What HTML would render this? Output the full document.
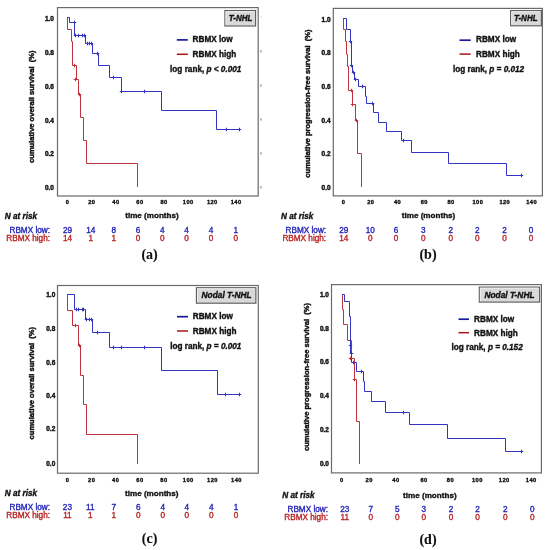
<!DOCTYPE html>
<html><head><meta charset="utf-8"><title>Kaplan-Meier survival curves by RBMX expression</title>
<style>
html,body{margin:0;padding:0;background:#fff;}
body{width:548px;height:550px;overflow:hidden;font-family:"Liberation Sans",sans-serif;}
svg{display:block;filter:blur(0.3px);}
</style></head>
<body>
<svg width="548" height="550" viewBox="0 0 548 550">
<rect x="0" y="0" width="548" height="550" fill="#fff"/>
<rect x="57.5" y="7.6" width="200.70" height="188.40" fill="none" stroke="#6a6a6a" stroke-width="1.2"/>
<text x="54.0" y="21.25" font-family="Liberation Sans" font-size="6.5" font-weight="bold" font-style="normal" text-anchor="end" fill="#111" stroke="#111" stroke-width="0.4" letter-spacing="0.0">1.0</text>
<text x="54.0" y="55.05" font-family="Liberation Sans" font-size="6.5" font-weight="bold" font-style="normal" text-anchor="end" fill="#111" stroke="#111" stroke-width="0.4" letter-spacing="0.0">0.8</text>
<text x="54.0" y="88.85" font-family="Liberation Sans" font-size="6.5" font-weight="bold" font-style="normal" text-anchor="end" fill="#111" stroke="#111" stroke-width="0.4" letter-spacing="0.0">0.6</text>
<text x="54.0" y="122.65" font-family="Liberation Sans" font-size="6.5" font-weight="bold" font-style="normal" text-anchor="end" fill="#111" stroke="#111" stroke-width="0.4" letter-spacing="0.0">0.4</text>
<text x="54.0" y="156.45" font-family="Liberation Sans" font-size="6.5" font-weight="bold" font-style="normal" text-anchor="end" fill="#111" stroke="#111" stroke-width="0.4" letter-spacing="0.0">0.2</text>
<text x="54.0" y="190.45" font-family="Liberation Sans" font-size="6.5" font-weight="bold" font-style="normal" text-anchor="end" fill="#111" stroke="#111" stroke-width="0.4" letter-spacing="0.0">0.0</text>
<text x="67.62" y="204.3" font-family="Liberation Sans" font-size="5.7" font-weight="bold" font-style="normal" text-anchor="middle" fill="#111" stroke="#111" stroke-width="0.35" letter-spacing="0.45">0</text>
<text x="91.82" y="204.3" font-family="Liberation Sans" font-size="5.7" font-weight="bold" font-style="normal" text-anchor="middle" fill="#111" stroke="#111" stroke-width="0.35" letter-spacing="0.45">20</text>
<text x="115.92" y="204.3" font-family="Liberation Sans" font-size="5.7" font-weight="bold" font-style="normal" text-anchor="middle" fill="#111" stroke="#111" stroke-width="0.35" letter-spacing="0.45">40</text>
<text x="139.92" y="204.3" font-family="Liberation Sans" font-size="5.7" font-weight="bold" font-style="normal" text-anchor="middle" fill="#111" stroke="#111" stroke-width="0.35" letter-spacing="0.45">60</text>
<text x="164.12" y="204.3" font-family="Liberation Sans" font-size="5.7" font-weight="bold" font-style="normal" text-anchor="middle" fill="#111" stroke="#111" stroke-width="0.35" letter-spacing="0.45">80</text>
<text x="188.22" y="204.3" font-family="Liberation Sans" font-size="5.7" font-weight="bold" font-style="normal" text-anchor="middle" fill="#111" stroke="#111" stroke-width="0.35" letter-spacing="0.45">100</text>
<text x="212.32" y="204.3" font-family="Liberation Sans" font-size="5.7" font-weight="bold" font-style="normal" text-anchor="middle" fill="#111" stroke="#111" stroke-width="0.35" letter-spacing="0.45">120</text>
<text x="236.12" y="204.3" font-family="Liberation Sans" font-size="5.7" font-weight="bold" font-style="normal" text-anchor="middle" fill="#111" stroke="#111" stroke-width="0.35" letter-spacing="0.45">140</text>
<text transform="translate(34.1,106.7) rotate(-90)" x="0" y="0" font-family="Liberation Sans" font-size="7.55" font-weight="bold" text-anchor="middle" fill="#111" stroke="#111" stroke-width="0.42" xml:space="preserve">cumulative overall survival  (%)</text>
<line x1="176.8" y1="39.9" x2="187.8" y2="39.9" stroke="#1a1aa0" stroke-width="1.7"/>
<line x1="176.8" y1="54.3" x2="187.8" y2="54.3" stroke="#a81414" stroke-width="1.5"/>
<text x="192.6" y="42.4" font-family="Liberation Sans" font-size="8.2" font-weight="bold" font-style="normal" text-anchor="start" fill="#111" stroke="#111" stroke-width="0.35" >RBMX low</text>
<text x="192.6" y="56.9" font-family="Liberation Sans" font-size="8.2" font-weight="bold" font-style="normal" text-anchor="start" fill="#111" stroke="#111" stroke-width="0.35" >RBMX high</text>
<text x="170.1" y="71.7" font-family="Liberation Sans" font-size="8.2" font-weight="bold" font-style="normal" text-anchor="start" fill="#111" stroke="#111" stroke-width="0.35" >log rank, <tspan font-style="italic">p &lt; 0.001</tspan></text>
<rect x="224.9" y="10.5" width="30.70" height="15.50" fill="#d9d9d9" stroke="#5a5a5a" stroke-width="1.1"/>
<path d="M226.0,24.9 V11.6 H254.50000000000003" fill="none" stroke="#f0f0f0" stroke-width="0.9"/>
<text x="228.8" y="20.9" font-family="Liberation Sans" font-size="8.8" font-weight="bold" font-style="italic" text-anchor="start" fill="#111" stroke="#111" stroke-width="0.35" textLength="23.6" lengthAdjust="spacingAndGlyphs">T-NHL</text>
<path d="M67.5,17.5 V29.5 H71.5 V41.5 H72.5 V65.5 H76.5 V79.5 H78.5 V94.5 H80.5 V117.5 H83.5 V140.5 H86.5 V163.5 H137.5 V186.5" fill="none" stroke="#c0323c" stroke-width="1.0" stroke-linejoin="miter" stroke-linecap="square"/>
<path d="M67.5,17.5 H69.5 V22.5 H74.5 V35.5 H85.5 V43.5 H92.5 V53.5 H98.5 V65.5 H109.5 V77.5 H121.5 V91.5 H161.5 V110.5 H216.5 V129.5 H239.5" fill="none" stroke="#3333c2" stroke-width="1.0" stroke-linejoin="miter" stroke-linecap="square"/>
<path d="M72.8,22.5 H76.2 M74.5,20.8 V24.2" stroke="#3333c2" stroke-width="1.1" fill="none"/>
<path d="M73.8,35.5 H77.2 M75.5,33.8 V37.2" stroke="#3333c2" stroke-width="1.1" fill="none"/>
<path d="M76.8,35.5 H80.2 M78.5,33.8 V37.2" stroke="#3333c2" stroke-width="1.1" fill="none"/>
<path d="M80.8,35.5 H84.2 M82.5,33.8 V37.2" stroke="#3333c2" stroke-width="1.1" fill="none"/>
<path d="M82.8,35.5 H86.2 M84.5,33.8 V37.2" stroke="#3333c2" stroke-width="1.1" fill="none"/>
<path d="M85.8,43.5 H89.2 M87.5,41.8 V45.2" stroke="#3333c2" stroke-width="1.1" fill="none"/>
<path d="M87.8,43.5 H91.2 M89.5,41.8 V45.2" stroke="#3333c2" stroke-width="1.1" fill="none"/>
<path d="M89.8,43.5 H93.2 M91.5,41.8 V45.2" stroke="#3333c2" stroke-width="1.1" fill="none"/>
<path d="M95.8,53.5 H99.2 M97.5,51.8 V55.2" stroke="#3333c2" stroke-width="1.1" fill="none"/>
<path d="M111.8,77.5 H115.2 M113.5,75.8 V79.2" stroke="#3333c2" stroke-width="1.1" fill="none"/>
<path d="M119.8,91.5 H123.2 M121.5,89.8 V93.2" stroke="#3333c2" stroke-width="1.1" fill="none"/>
<path d="M142.8,91.5 H146.2 M144.5,89.8 V93.2" stroke="#3333c2" stroke-width="1.1" fill="none"/>
<path d="M224.8,129.5 H228.2 M226.5,127.8 V131.2" stroke="#3333c2" stroke-width="1.1" fill="none"/>
<path d="M237.8,129.5 H241.2 M239.5,127.8 V131.2" stroke="#3333c2" stroke-width="1.1" fill="none"/>
<path d="M72.8,65.5 H76.2 M74.5,63.8 V67.2" stroke="#c0323c" stroke-width="1.1" fill="none"/>
<path d="M73.8,79.5 H77.2 M75.5,77.8 V81.2" stroke="#c0323c" stroke-width="1.1" fill="none"/>
<path d="M77.8,94.5 H81.2 M79.5,92.8 V96.2" stroke="#c0323c" stroke-width="1.1" fill="none"/>
<text x="4.8" y="218.9" font-family="Liberation Sans" font-size="8.2" font-weight="bold" font-style="italic" text-anchor="start" fill="#111" stroke="#111" stroke-width="0.35" >N at risk</text>
<text x="50.0" y="232.9" font-family="Liberation Sans" font-size="8.2" font-weight="normal" font-style="normal" text-anchor="end" fill="#2424b8" stroke="#2424b8" stroke-width="0.35" >RBMX low:</text>
<text x="50.0" y="240.6" font-family="Liberation Sans" font-size="8.2" font-weight="normal" font-style="normal" text-anchor="end" fill="#b82424" stroke="#b82424" stroke-width="0.35" >RBMX high:</text>
<text x="125.2" y="218.2" font-family="Liberation Sans" font-size="8.1" font-weight="bold" font-style="normal" text-anchor="start" fill="#111" stroke="#111" stroke-width="0.35" >time (months)</text>
<text x="67.5" y="233.0" font-family="Liberation Sans" font-size="8.2" font-weight="normal" font-style="normal" text-anchor="middle" fill="#2424b8" stroke="#2424b8" stroke-width="0.35" >29</text>
<text x="90.8" y="233.0" font-family="Liberation Sans" font-size="8.2" font-weight="normal" font-style="normal" text-anchor="middle" fill="#2424b8" stroke="#2424b8" stroke-width="0.35" >14</text>
<text x="113.9" y="233.0" font-family="Liberation Sans" font-size="8.2" font-weight="normal" font-style="normal" text-anchor="middle" fill="#2424b8" stroke="#2424b8" stroke-width="0.35" >8</text>
<text x="138.1" y="233.0" font-family="Liberation Sans" font-size="8.2" font-weight="normal" font-style="normal" text-anchor="middle" fill="#2424b8" stroke="#2424b8" stroke-width="0.35" >6</text>
<text x="162.4" y="233.0" font-family="Liberation Sans" font-size="8.2" font-weight="normal" font-style="normal" text-anchor="middle" fill="#2424b8" stroke="#2424b8" stroke-width="0.35" >4</text>
<text x="186.5" y="233.0" font-family="Liberation Sans" font-size="8.2" font-weight="normal" font-style="normal" text-anchor="middle" fill="#2424b8" stroke="#2424b8" stroke-width="0.35" >4</text>
<text x="211.0" y="233.0" font-family="Liberation Sans" font-size="8.2" font-weight="normal" font-style="normal" text-anchor="middle" fill="#2424b8" stroke="#2424b8" stroke-width="0.35" >4</text>
<text x="235.8" y="233.0" font-family="Liberation Sans" font-size="8.2" font-weight="normal" font-style="normal" text-anchor="middle" fill="#2424b8" stroke="#2424b8" stroke-width="0.35" >1</text>
<text x="67.5" y="240.8" font-family="Liberation Sans" font-size="8.2" font-weight="normal" font-style="normal" text-anchor="middle" fill="#b82424" stroke="#b82424" stroke-width="0.35" >14</text>
<text x="90.8" y="240.8" font-family="Liberation Sans" font-size="8.2" font-weight="normal" font-style="normal" text-anchor="middle" fill="#b82424" stroke="#b82424" stroke-width="0.35" >1</text>
<text x="113.9" y="240.8" font-family="Liberation Sans" font-size="8.2" font-weight="normal" font-style="normal" text-anchor="middle" fill="#b82424" stroke="#b82424" stroke-width="0.35" >1</text>
<text x="138.1" y="240.8" font-family="Liberation Sans" font-size="8.2" font-weight="normal" font-style="normal" text-anchor="middle" fill="#b82424" stroke="#b82424" stroke-width="0.35" >0</text>
<text x="162.4" y="240.8" font-family="Liberation Sans" font-size="8.2" font-weight="normal" font-style="normal" text-anchor="middle" fill="#b82424" stroke="#b82424" stroke-width="0.35" >0</text>
<text x="186.5" y="240.8" font-family="Liberation Sans" font-size="8.2" font-weight="normal" font-style="normal" text-anchor="middle" fill="#b82424" stroke="#b82424" stroke-width="0.35" >0</text>
<text x="211.0" y="240.8" font-family="Liberation Sans" font-size="8.2" font-weight="normal" font-style="normal" text-anchor="middle" fill="#b82424" stroke="#b82424" stroke-width="0.35" >0</text>
<text x="235.8" y="240.8" font-family="Liberation Sans" font-size="8.2" font-weight="normal" font-style="normal" text-anchor="middle" fill="#b82424" stroke="#b82424" stroke-width="0.35" >0</text>
<text x="149.6" y="258.8" font-family="Liberation Serif" font-size="14" font-weight="bold" font-style="normal" text-anchor="middle" fill="#111" stroke="#111" stroke-width="0.1" >(a)</text>
<rect x="333.3" y="8.4" width="209.10" height="187.50" fill="none" stroke="#6a6a6a" stroke-width="1.2"/>
<text x="330.6" y="21.55" font-family="Liberation Sans" font-size="6.5" font-weight="bold" font-style="normal" text-anchor="end" fill="#111" stroke="#111" stroke-width="0.4" letter-spacing="0.0">1.0</text>
<text x="330.6" y="55.35" font-family="Liberation Sans" font-size="6.5" font-weight="bold" font-style="normal" text-anchor="end" fill="#111" stroke="#111" stroke-width="0.4" letter-spacing="0.0">0.8</text>
<text x="330.6" y="88.85" font-family="Liberation Sans" font-size="6.5" font-weight="bold" font-style="normal" text-anchor="end" fill="#111" stroke="#111" stroke-width="0.4" letter-spacing="0.0">0.6</text>
<text x="330.6" y="122.55" font-family="Liberation Sans" font-size="6.5" font-weight="bold" font-style="normal" text-anchor="end" fill="#111" stroke="#111" stroke-width="0.4" letter-spacing="0.0">0.4</text>
<text x="330.6" y="156.35" font-family="Liberation Sans" font-size="6.5" font-weight="bold" font-style="normal" text-anchor="end" fill="#111" stroke="#111" stroke-width="0.4" letter-spacing="0.0">0.2</text>
<text x="330.6" y="190.15" font-family="Liberation Sans" font-size="6.5" font-weight="bold" font-style="normal" text-anchor="end" fill="#111" stroke="#111" stroke-width="0.4" letter-spacing="0.0">0.0</text>
<text x="343.52000000000004" y="204.3" font-family="Liberation Sans" font-size="5.7" font-weight="bold" font-style="normal" text-anchor="middle" fill="#111" stroke="#111" stroke-width="0.35" letter-spacing="0.45">0</text>
<text x="370.82000000000005" y="204.3" font-family="Liberation Sans" font-size="5.7" font-weight="bold" font-style="normal" text-anchor="middle" fill="#111" stroke="#111" stroke-width="0.35" letter-spacing="0.45">20</text>
<text x="397.62" y="204.3" font-family="Liberation Sans" font-size="5.7" font-weight="bold" font-style="normal" text-anchor="middle" fill="#111" stroke="#111" stroke-width="0.35" letter-spacing="0.45">40</text>
<text x="424.32000000000005" y="204.3" font-family="Liberation Sans" font-size="5.7" font-weight="bold" font-style="normal" text-anchor="middle" fill="#111" stroke="#111" stroke-width="0.35" letter-spacing="0.45">60</text>
<text x="451.12" y="204.3" font-family="Liberation Sans" font-size="5.7" font-weight="bold" font-style="normal" text-anchor="middle" fill="#111" stroke="#111" stroke-width="0.35" letter-spacing="0.45">80</text>
<text x="477.92" y="204.3" font-family="Liberation Sans" font-size="5.7" font-weight="bold" font-style="normal" text-anchor="middle" fill="#111" stroke="#111" stroke-width="0.35" letter-spacing="0.45">100</text>
<text x="504.82000000000005" y="204.3" font-family="Liberation Sans" font-size="5.7" font-weight="bold" font-style="normal" text-anchor="middle" fill="#111" stroke="#111" stroke-width="0.35" letter-spacing="0.45">120</text>
<text x="531.62" y="204.3" font-family="Liberation Sans" font-size="5.7" font-weight="bold" font-style="normal" text-anchor="middle" fill="#111" stroke="#111" stroke-width="0.35" letter-spacing="0.45">140</text>
<text transform="translate(309.7,103.6) rotate(-90)" x="0" y="0" font-family="Liberation Sans" font-size="7.55" font-weight="bold" text-anchor="middle" fill="#111" stroke="#111" stroke-width="0.42" xml:space="preserve">cumulative progression-free survival  (%)</text>
<line x1="459.5" y1="40.2" x2="470.7" y2="40.2" stroke="#1a1aa0" stroke-width="1.7"/>
<line x1="459.5" y1="54.1" x2="470.7" y2="54.1" stroke="#a81414" stroke-width="1.5"/>
<text x="476.0" y="42.4" font-family="Liberation Sans" font-size="8.2" font-weight="bold" font-style="normal" text-anchor="start" fill="#111" stroke="#111" stroke-width="0.35" >RBMX low</text>
<text x="476.0" y="57.2" font-family="Liberation Sans" font-size="8.2" font-weight="bold" font-style="normal" text-anchor="start" fill="#111" stroke="#111" stroke-width="0.35" >RBMX high</text>
<text x="452.9" y="72.3" font-family="Liberation Sans" font-size="8.2" font-weight="bold" font-style="normal" text-anchor="start" fill="#111" stroke="#111" stroke-width="0.35" >log rank, <tspan font-style="italic">p = 0.012</tspan></text>
<rect x="510.6" y="10.6" width="30.80" height="15.20" fill="#d9d9d9" stroke="#5a5a5a" stroke-width="1.1"/>
<path d="M511.70000000000005,24.7 V11.7 H540.3" fill="none" stroke="#f0f0f0" stroke-width="0.9"/>
<text x="514.0" y="21.0" font-family="Liberation Sans" font-size="8.8" font-weight="bold" font-style="italic" text-anchor="start" fill="#111" stroke="#111" stroke-width="0.35" textLength="23.6" lengthAdjust="spacingAndGlyphs">T-NHL</text>
<path d="M343.5,18.5 V29.5 H345.5 V41.5 H346.5 V54.5 H347.5 V66.5 H348.5 V90.5 H352.5 V104.5 H355.5 V120.5 H357.5 V153.5 H361.5 V186.5" fill="none" stroke="#c0323c" stroke-width="1.0" stroke-linejoin="miter" stroke-linecap="square"/>
<path d="M343.5,18.5 H346.5 V29.5 H350.5 V41.5 H351.5 V65.5 H352.5 V72.5 H354.5 V79.5 H358.5 V86.5 H365.5 V96.5 H366.5 V103.5 H373.5 V112.5 H378.5 V122.5 H386.5 V131.5 H401.5 V140.5 H411.5 V152.5 H448.5 V163.5 H506.5 V175.5 H521.5" fill="none" stroke="#3333c2" stroke-width="1.0" stroke-linejoin="miter" stroke-linecap="square"/>
<path d="M348.8,41.5 H352.2 M350.5,39.8 V43.2" stroke="#3333c2" stroke-width="1.1" fill="none"/>
<path d="M349.8,65.5 H353.2 M351.5,63.8 V67.2" stroke="#3333c2" stroke-width="1.1" fill="none"/>
<path d="M351.8,72.5 H355.2 M353.5,70.8 V74.2" stroke="#3333c2" stroke-width="1.1" fill="none"/>
<path d="M353.8,79.5 H357.2 M355.5,77.8 V81.2" stroke="#3333c2" stroke-width="1.1" fill="none"/>
<path d="M360.8,86.5 H364.2 M362.5,84.8 V88.2" stroke="#3333c2" stroke-width="1.1" fill="none"/>
<path d="M370.8,103.5 H374.2 M372.5,101.8 V105.2" stroke="#3333c2" stroke-width="1.1" fill="none"/>
<path d="M401.8,140.5 H405.2 M403.5,138.8 V142.2" stroke="#3333c2" stroke-width="1.1" fill="none"/>
<path d="M519.8,175.5 H523.2 M521.5,173.8 V177.2" stroke="#3333c2" stroke-width="1.1" fill="none"/>
<path d="M349.8,90.5 H353.2 M351.5,88.8 V92.2" stroke="#c0323c" stroke-width="1.1" fill="none"/>
<path d="M350.8,104.5 H354.2 M352.5,102.8 V106.2" stroke="#c0323c" stroke-width="1.1" fill="none"/>
<path d="M354.8,120.5 H358.2 M356.5,118.8 V122.2" stroke="#c0323c" stroke-width="1.1" fill="none"/>
<text x="281.0" y="218.8" font-family="Liberation Sans" font-size="8.2" font-weight="bold" font-style="italic" text-anchor="start" fill="#111" stroke="#111" stroke-width="0.35" >N at risk</text>
<text x="326.1" y="232.8" font-family="Liberation Sans" font-size="8.2" font-weight="normal" font-style="normal" text-anchor="end" fill="#2424b8" stroke="#2424b8" stroke-width="0.35" >RBMX low:</text>
<text x="326.1" y="240.6" font-family="Liberation Sans" font-size="8.2" font-weight="normal" font-style="normal" text-anchor="end" fill="#b82424" stroke="#b82424" stroke-width="0.35" >RBMX high:</text>
<text x="455.3" y="218.2" font-family="Liberation Sans" font-size="8.1" font-weight="bold" font-style="normal" text-anchor="end" fill="#111" stroke="#111" stroke-width="0.35" >time (months)</text>
<text x="343.8" y="233.0" font-family="Liberation Sans" font-size="8.2" font-weight="normal" font-style="normal" text-anchor="middle" fill="#2424b8" stroke="#2424b8" stroke-width="0.35" >29</text>
<text x="370.3" y="233.0" font-family="Liberation Sans" font-size="8.2" font-weight="normal" font-style="normal" text-anchor="middle" fill="#2424b8" stroke="#2424b8" stroke-width="0.35" >10</text>
<text x="396.1" y="233.0" font-family="Liberation Sans" font-size="8.2" font-weight="normal" font-style="normal" text-anchor="middle" fill="#2424b8" stroke="#2424b8" stroke-width="0.35" >6</text>
<text x="423.3" y="233.0" font-family="Liberation Sans" font-size="8.2" font-weight="normal" font-style="normal" text-anchor="middle" fill="#2424b8" stroke="#2424b8" stroke-width="0.35" >3</text>
<text x="450.8" y="233.0" font-family="Liberation Sans" font-size="8.2" font-weight="normal" font-style="normal" text-anchor="middle" fill="#2424b8" stroke="#2424b8" stroke-width="0.35" >2</text>
<text x="477.2" y="233.0" font-family="Liberation Sans" font-size="8.2" font-weight="normal" font-style="normal" text-anchor="middle" fill="#2424b8" stroke="#2424b8" stroke-width="0.35" >2</text>
<text x="504.6" y="233.0" font-family="Liberation Sans" font-size="8.2" font-weight="normal" font-style="normal" text-anchor="middle" fill="#2424b8" stroke="#2424b8" stroke-width="0.35" >2</text>
<text x="531.0" y="233.0" font-family="Liberation Sans" font-size="8.2" font-weight="normal" font-style="normal" text-anchor="middle" fill="#2424b8" stroke="#2424b8" stroke-width="0.35" >0</text>
<text x="343.8" y="240.8" font-family="Liberation Sans" font-size="8.2" font-weight="normal" font-style="normal" text-anchor="middle" fill="#b82424" stroke="#b82424" stroke-width="0.35" >14</text>
<text x="370.3" y="240.8" font-family="Liberation Sans" font-size="8.2" font-weight="normal" font-style="normal" text-anchor="middle" fill="#b82424" stroke="#b82424" stroke-width="0.35" >0</text>
<text x="396.1" y="240.8" font-family="Liberation Sans" font-size="8.2" font-weight="normal" font-style="normal" text-anchor="middle" fill="#b82424" stroke="#b82424" stroke-width="0.35" >0</text>
<text x="423.3" y="240.8" font-family="Liberation Sans" font-size="8.2" font-weight="normal" font-style="normal" text-anchor="middle" fill="#b82424" stroke="#b82424" stroke-width="0.35" >0</text>
<text x="450.8" y="240.8" font-family="Liberation Sans" font-size="8.2" font-weight="normal" font-style="normal" text-anchor="middle" fill="#b82424" stroke="#b82424" stroke-width="0.35" >0</text>
<text x="477.2" y="240.8" font-family="Liberation Sans" font-size="8.2" font-weight="normal" font-style="normal" text-anchor="middle" fill="#b82424" stroke="#b82424" stroke-width="0.35" >0</text>
<text x="504.6" y="240.8" font-family="Liberation Sans" font-size="8.2" font-weight="normal" font-style="normal" text-anchor="middle" fill="#b82424" stroke="#b82424" stroke-width="0.35" >0</text>
<text x="531.0" y="240.8" font-family="Liberation Sans" font-size="8.2" font-weight="normal" font-style="normal" text-anchor="middle" fill="#b82424" stroke="#b82424" stroke-width="0.35" >0</text>
<text x="428.0" y="259.2" font-family="Liberation Serif" font-size="14" font-weight="bold" font-style="normal" text-anchor="middle" fill="#111" stroke="#111" stroke-width="0.1" >(b)</text>
<rect x="57.5" y="285.5" width="200.80" height="187.70" fill="none" stroke="#6a6a6a" stroke-width="1.2"/>
<text x="55.3" y="297.25" font-family="Liberation Sans" font-size="6.5" font-weight="bold" font-style="normal" text-anchor="end" fill="#111" stroke="#111" stroke-width="0.4" letter-spacing="0.0">1.0</text>
<text x="55.3" y="331.3" font-family="Liberation Sans" font-size="6.5" font-weight="bold" font-style="normal" text-anchor="end" fill="#111" stroke="#111" stroke-width="0.4" letter-spacing="0.0">0.8</text>
<text x="55.3" y="364.55" font-family="Liberation Sans" font-size="6.5" font-weight="bold" font-style="normal" text-anchor="end" fill="#111" stroke="#111" stroke-width="0.4" letter-spacing="0.0">0.6</text>
<text x="55.3" y="398.05" font-family="Liberation Sans" font-size="6.5" font-weight="bold" font-style="normal" text-anchor="end" fill="#111" stroke="#111" stroke-width="0.4" letter-spacing="0.0">0.4</text>
<text x="55.3" y="431.3" font-family="Liberation Sans" font-size="6.5" font-weight="bold" font-style="normal" text-anchor="end" fill="#111" stroke="#111" stroke-width="0.4" letter-spacing="0.0">0.2</text>
<text x="55.3" y="465.95" font-family="Liberation Sans" font-size="6.5" font-weight="bold" font-style="normal" text-anchor="end" fill="#111" stroke="#111" stroke-width="0.4" letter-spacing="0.0">0.0</text>
<text x="67.62" y="481.8" font-family="Liberation Sans" font-size="5.7" font-weight="bold" font-style="normal" text-anchor="middle" fill="#111" stroke="#111" stroke-width="0.35" letter-spacing="0.45">0</text>
<text x="91.72" y="481.8" font-family="Liberation Sans" font-size="5.7" font-weight="bold" font-style="normal" text-anchor="middle" fill="#111" stroke="#111" stroke-width="0.35" letter-spacing="0.45">20</text>
<text x="115.72" y="481.8" font-family="Liberation Sans" font-size="5.7" font-weight="bold" font-style="normal" text-anchor="middle" fill="#111" stroke="#111" stroke-width="0.35" letter-spacing="0.45">40</text>
<text x="139.92" y="481.8" font-family="Liberation Sans" font-size="5.7" font-weight="bold" font-style="normal" text-anchor="middle" fill="#111" stroke="#111" stroke-width="0.35" letter-spacing="0.45">60</text>
<text x="163.92" y="481.8" font-family="Liberation Sans" font-size="5.7" font-weight="bold" font-style="normal" text-anchor="middle" fill="#111" stroke="#111" stroke-width="0.35" letter-spacing="0.45">80</text>
<text x="188.22" y="481.8" font-family="Liberation Sans" font-size="5.7" font-weight="bold" font-style="normal" text-anchor="middle" fill="#111" stroke="#111" stroke-width="0.35" letter-spacing="0.45">100</text>
<text x="212.52" y="481.8" font-family="Liberation Sans" font-size="5.7" font-weight="bold" font-style="normal" text-anchor="middle" fill="#111" stroke="#111" stroke-width="0.35" letter-spacing="0.45">120</text>
<text x="236.52" y="481.8" font-family="Liberation Sans" font-size="5.7" font-weight="bold" font-style="normal" text-anchor="middle" fill="#111" stroke="#111" stroke-width="0.35" letter-spacing="0.45">140</text>
<text transform="translate(34.2,383.2) rotate(-90)" x="0" y="0" font-family="Liberation Sans" font-size="7.55" font-weight="bold" text-anchor="middle" fill="#111" stroke="#111" stroke-width="0.42" xml:space="preserve">cumulative overall survival  (%)</text>
<line x1="177.0" y1="316.7" x2="188.0" y2="316.7" stroke="#1a1aa0" stroke-width="1.7"/>
<line x1="177.0" y1="331.0" x2="188.0" y2="331.0" stroke="#a81414" stroke-width="1.5"/>
<text x="192.8" y="318.9" font-family="Liberation Sans" font-size="8.2" font-weight="bold" font-style="normal" text-anchor="start" fill="#111" stroke="#111" stroke-width="0.35" >RBMX low</text>
<text x="192.8" y="333.5" font-family="Liberation Sans" font-size="8.2" font-weight="bold" font-style="normal" text-anchor="start" fill="#111" stroke="#111" stroke-width="0.35" >RBMX high</text>
<text x="170.2" y="348.8" font-family="Liberation Sans" font-size="8.2" font-weight="bold" font-style="normal" text-anchor="start" fill="#111" stroke="#111" stroke-width="0.35" >log rank, <tspan font-style="italic">p = 0.001</tspan></text>
<rect x="196.4" y="287.7" width="59.50" height="15.50" fill="#d9d9d9" stroke="#5a5a5a" stroke-width="1.1"/>
<path d="M197.5,302.09999999999997 V288.8 H254.79999999999998" fill="none" stroke="#f0f0f0" stroke-width="0.9"/>
<text x="201.6" y="298.4" font-family="Liberation Sans" font-size="8.8" font-weight="bold" font-style="italic" text-anchor="start" fill="#111" stroke="#111" stroke-width="0.35" textLength="50.0" lengthAdjust="spacingAndGlyphs">Nodal T-NHL</text>
<path d="M67.5,294.5 V310.5 H72.5 V325.5 H78.5 V345.5 H80.5 V375.5 H83.5 V404.5 H86.5 V434.5 H137.5 V463.5" fill="none" stroke="#c0323c" stroke-width="1.0" stroke-linejoin="miter" stroke-linecap="square"/>
<path d="M67.5,294.5 H74.5 V309.5 H85.5 V319.5 H92.5 V332.5 H109.5 V347.5 H161.5 V370.5 H217.5 V394.5 H239.5" fill="none" stroke="#3333c2" stroke-width="1.0" stroke-linejoin="miter" stroke-linecap="square"/>
<path d="M74.8,309.5 H78.2 M76.5,307.8 V311.2" stroke="#3333c2" stroke-width="1.1" fill="none"/>
<path d="M76.8,309.5 H80.2 M78.5,307.8 V311.2" stroke="#3333c2" stroke-width="1.1" fill="none"/>
<path d="M80.8,309.5 H84.2 M82.5,307.8 V311.2" stroke="#3333c2" stroke-width="1.1" fill="none"/>
<path d="M81.8,309.5 H85.2 M83.5,307.8 V311.2" stroke="#3333c2" stroke-width="1.1" fill="none"/>
<path d="M84.8,319.5 H88.2 M86.5,317.8 V321.2" stroke="#3333c2" stroke-width="1.1" fill="none"/>
<path d="M87.8,319.5 H91.2 M89.5,317.8 V321.2" stroke="#3333c2" stroke-width="1.1" fill="none"/>
<path d="M89.8,319.5 H93.2 M91.5,317.8 V321.2" stroke="#3333c2" stroke-width="1.1" fill="none"/>
<path d="M95.8,332.5 H99.2 M97.5,330.8 V334.2" stroke="#3333c2" stroke-width="1.1" fill="none"/>
<path d="M111.8,347.5 H115.2 M113.5,345.8 V349.2" stroke="#3333c2" stroke-width="1.1" fill="none"/>
<path d="M119.8,347.5 H123.2 M121.5,345.8 V349.2" stroke="#3333c2" stroke-width="1.1" fill="none"/>
<path d="M142.8,347.5 H146.2 M144.5,345.8 V349.2" stroke="#3333c2" stroke-width="1.1" fill="none"/>
<path d="M223.8,394.5 H227.2 M225.5,392.8 V396.2" stroke="#3333c2" stroke-width="1.1" fill="none"/>
<path d="M237.8,394.5 H241.2 M239.5,392.8 V396.2" stroke="#3333c2" stroke-width="1.1" fill="none"/>
<path d="M73.8,325.5 H77.2 M75.5,323.8 V327.2" stroke="#c0323c" stroke-width="1.1" fill="none"/>
<path d="M77.8,345.5 H81.2 M79.5,343.8 V347.2" stroke="#c0323c" stroke-width="1.1" fill="none"/>
<text x="4.8" y="496.1" font-family="Liberation Sans" font-size="8.2" font-weight="bold" font-style="italic" text-anchor="start" fill="#111" stroke="#111" stroke-width="0.35" >N at risk</text>
<text x="50.0" y="509.9" font-family="Liberation Sans" font-size="8.2" font-weight="normal" font-style="normal" text-anchor="end" fill="#2424b8" stroke="#2424b8" stroke-width="0.35" >RBMX low:</text>
<text x="50.0" y="517.7" font-family="Liberation Sans" font-size="8.2" font-weight="normal" font-style="normal" text-anchor="end" fill="#b82424" stroke="#b82424" stroke-width="0.35" >RBMX high:</text>
<text x="178.5" y="495.6" font-family="Liberation Sans" font-size="8.1" font-weight="bold" font-style="normal" text-anchor="end" fill="#111" stroke="#111" stroke-width="0.35" >time (months)</text>
<text x="67.4" y="510.1" font-family="Liberation Sans" font-size="8.2" font-weight="normal" font-style="normal" text-anchor="middle" fill="#2424b8" stroke="#2424b8" stroke-width="0.35" >23</text>
<text x="90.25" y="510.1" font-family="Liberation Sans" font-size="8.2" font-weight="normal" font-style="normal" text-anchor="middle" fill="#2424b8" stroke="#2424b8" stroke-width="0.35" >11</text>
<text x="113.75" y="510.1" font-family="Liberation Sans" font-size="8.2" font-weight="normal" font-style="normal" text-anchor="middle" fill="#2424b8" stroke="#2424b8" stroke-width="0.35" >7</text>
<text x="138.2" y="510.1" font-family="Liberation Sans" font-size="8.2" font-weight="normal" font-style="normal" text-anchor="middle" fill="#2424b8" stroke="#2424b8" stroke-width="0.35" >6</text>
<text x="162.7" y="510.1" font-family="Liberation Sans" font-size="8.2" font-weight="normal" font-style="normal" text-anchor="middle" fill="#2424b8" stroke="#2424b8" stroke-width="0.35" >4</text>
<text x="186.7" y="510.1" font-family="Liberation Sans" font-size="8.2" font-weight="normal" font-style="normal" text-anchor="middle" fill="#2424b8" stroke="#2424b8" stroke-width="0.35" >4</text>
<text x="211.2" y="510.1" font-family="Liberation Sans" font-size="8.2" font-weight="normal" font-style="normal" text-anchor="middle" fill="#2424b8" stroke="#2424b8" stroke-width="0.35" >4</text>
<text x="236.0" y="510.1" font-family="Liberation Sans" font-size="8.2" font-weight="normal" font-style="normal" text-anchor="middle" fill="#2424b8" stroke="#2424b8" stroke-width="0.35" >1</text>
<text x="67.4" y="518.0" font-family="Liberation Sans" font-size="8.2" font-weight="normal" font-style="normal" text-anchor="middle" fill="#b82424" stroke="#b82424" stroke-width="0.35" >11</text>
<text x="90.25" y="518.0" font-family="Liberation Sans" font-size="8.2" font-weight="normal" font-style="normal" text-anchor="middle" fill="#b82424" stroke="#b82424" stroke-width="0.35" >1</text>
<text x="113.75" y="518.0" font-family="Liberation Sans" font-size="8.2" font-weight="normal" font-style="normal" text-anchor="middle" fill="#b82424" stroke="#b82424" stroke-width="0.35" >1</text>
<text x="138.2" y="518.0" font-family="Liberation Sans" font-size="8.2" font-weight="normal" font-style="normal" text-anchor="middle" fill="#b82424" stroke="#b82424" stroke-width="0.35" >0</text>
<text x="162.7" y="518.0" font-family="Liberation Sans" font-size="8.2" font-weight="normal" font-style="normal" text-anchor="middle" fill="#b82424" stroke="#b82424" stroke-width="0.35" >0</text>
<text x="186.7" y="518.0" font-family="Liberation Sans" font-size="8.2" font-weight="normal" font-style="normal" text-anchor="middle" fill="#b82424" stroke="#b82424" stroke-width="0.35" >0</text>
<text x="211.2" y="518.0" font-family="Liberation Sans" font-size="8.2" font-weight="normal" font-style="normal" text-anchor="middle" fill="#b82424" stroke="#b82424" stroke-width="0.35" >0</text>
<text x="236.0" y="518.0" font-family="Liberation Sans" font-size="8.2" font-weight="normal" font-style="normal" text-anchor="middle" fill="#b82424" stroke="#b82424" stroke-width="0.35" >0</text>
<text x="149.6" y="543.1" font-family="Liberation Serif" font-size="14" font-weight="bold" font-style="normal" text-anchor="middle" fill="#111" stroke="#111" stroke-width="0.1" >(c)</text>
<rect x="331.5" y="284.6" width="209.90" height="188.30" fill="none" stroke="#6a6a6a" stroke-width="1.2"/>
<text x="329.0" y="297.05" font-family="Liberation Sans" font-size="6.5" font-weight="bold" font-style="normal" text-anchor="end" fill="#111" stroke="#111" stroke-width="0.4" letter-spacing="0.0">1.0</text>
<text x="329.0" y="330.8" font-family="Liberation Sans" font-size="6.5" font-weight="bold" font-style="normal" text-anchor="end" fill="#111" stroke="#111" stroke-width="0.4" letter-spacing="0.0">0.8</text>
<text x="329.0" y="364.3" font-family="Liberation Sans" font-size="6.5" font-weight="bold" font-style="normal" text-anchor="end" fill="#111" stroke="#111" stroke-width="0.4" letter-spacing="0.0">0.6</text>
<text x="329.0" y="397.55" font-family="Liberation Sans" font-size="6.5" font-weight="bold" font-style="normal" text-anchor="end" fill="#111" stroke="#111" stroke-width="0.4" letter-spacing="0.0">0.4</text>
<text x="329.0" y="431.75" font-family="Liberation Sans" font-size="6.5" font-weight="bold" font-style="normal" text-anchor="end" fill="#111" stroke="#111" stroke-width="0.4" letter-spacing="0.0">0.2</text>
<text x="329.0" y="465.95" font-family="Liberation Sans" font-size="6.5" font-weight="bold" font-style="normal" text-anchor="end" fill="#111" stroke="#111" stroke-width="0.4" letter-spacing="0.0">0.0</text>
<text x="341.92" y="481.8" font-family="Liberation Sans" font-size="5.7" font-weight="bold" font-style="normal" text-anchor="middle" fill="#111" stroke="#111" stroke-width="0.35" letter-spacing="0.45">0</text>
<text x="369.22" y="481.8" font-family="Liberation Sans" font-size="5.7" font-weight="bold" font-style="normal" text-anchor="middle" fill="#111" stroke="#111" stroke-width="0.35" letter-spacing="0.45">20</text>
<text x="395.97" y="481.8" font-family="Liberation Sans" font-size="5.7" font-weight="bold" font-style="normal" text-anchor="middle" fill="#111" stroke="#111" stroke-width="0.35" letter-spacing="0.45">40</text>
<text x="424.12" y="481.8" font-family="Liberation Sans" font-size="5.7" font-weight="bold" font-style="normal" text-anchor="middle" fill="#111" stroke="#111" stroke-width="0.35" letter-spacing="0.45">60</text>
<text x="450.42" y="481.8" font-family="Liberation Sans" font-size="5.7" font-weight="bold" font-style="normal" text-anchor="middle" fill="#111" stroke="#111" stroke-width="0.35" letter-spacing="0.45">80</text>
<text x="477.42" y="481.8" font-family="Liberation Sans" font-size="5.7" font-weight="bold" font-style="normal" text-anchor="middle" fill="#111" stroke="#111" stroke-width="0.35" letter-spacing="0.45">100</text>
<text x="504.22" y="481.8" font-family="Liberation Sans" font-size="5.7" font-weight="bold" font-style="normal" text-anchor="middle" fill="#111" stroke="#111" stroke-width="0.35" letter-spacing="0.45">120</text>
<text x="531.22" y="481.8" font-family="Liberation Sans" font-size="5.7" font-weight="bold" font-style="normal" text-anchor="middle" fill="#111" stroke="#111" stroke-width="0.35" letter-spacing="0.45">140</text>
<text transform="translate(308.5,377.0) rotate(-90)" x="0" y="0" font-family="Liberation Sans" font-size="7.55" font-weight="bold" text-anchor="middle" fill="#111" stroke="#111" stroke-width="0.42" xml:space="preserve">cumulative progression-free survival  (%)</text>
<line x1="458.5" y1="319.2" x2="469.0" y2="319.2" stroke="#1a1aa0" stroke-width="1.7"/>
<line x1="458.5" y1="332.7" x2="469.0" y2="332.7" stroke="#a81414" stroke-width="1.5"/>
<text x="474.1" y="321.7" font-family="Liberation Sans" font-size="8.2" font-weight="bold" font-style="normal" text-anchor="start" fill="#111" stroke="#111" stroke-width="0.35" >RBMX low</text>
<text x="474.1" y="336.4" font-family="Liberation Sans" font-size="8.2" font-weight="bold" font-style="normal" text-anchor="start" fill="#111" stroke="#111" stroke-width="0.35" >RBMX high</text>
<text x="451.5" y="350.2" font-family="Liberation Sans" font-size="8.2" font-weight="bold" font-style="normal" text-anchor="start" fill="#111" stroke="#111" stroke-width="0.35" >log rank, <tspan font-style="italic">p = 0.152</tspan></text>
<rect x="479.3" y="287.1" width="60.30" height="15.00" fill="#d9d9d9" stroke="#5a5a5a" stroke-width="1.1"/>
<path d="M480.40000000000003,301.0 V288.20000000000005 H538.5" fill="none" stroke="#f0f0f0" stroke-width="0.9"/>
<text x="484.5" y="297.7" font-family="Liberation Sans" font-size="8.8" font-weight="bold" font-style="italic" text-anchor="start" fill="#111" stroke="#111" stroke-width="0.35" textLength="50.0" lengthAdjust="spacingAndGlyphs">Nodal T-NHL</text>
<path d="M342.5,294.5 V309.5 H343.5 V324.5 H347.5 V340.5 H351.5 V358.5 H354.5 V379.5 H356.5 V421.5 H359.5 V463.5" fill="none" stroke="#c0323c" stroke-width="1.0" stroke-linejoin="miter" stroke-linecap="square"/>
<path d="M342.5,294.5 H344.5 V301.5 H349.5 V316.5 H350.5 V353.5 H351.5 V362.5 H356.5 V371.5 H363.5 V381.5 H364.5 V391.5 H371.5 V401.5 H385.5 V412.5 H409.5 V424.5 H447.5 V438.5 H505.5 V451.5 H521.5" fill="none" stroke="#3333c2" stroke-width="1.0" stroke-linejoin="miter" stroke-linecap="square"/>
<path d="M348.8,345.5 H352.2 M350.5,343.8 V347.2" stroke="#3333c2" stroke-width="1.1" fill="none"/>
<path d="M349.8,353.5 H353.2 M351.5,351.8 V355.2" stroke="#3333c2" stroke-width="1.1" fill="none"/>
<path d="M351.8,362.5 H355.2 M353.5,360.8 V364.2" stroke="#3333c2" stroke-width="1.1" fill="none"/>
<path d="M359.8,371.5 H363.2 M361.5,369.8 V373.2" stroke="#3333c2" stroke-width="1.1" fill="none"/>
<path d="M401.8,412.5 H405.2 M403.5,410.8 V414.2" stroke="#3333c2" stroke-width="1.1" fill="none"/>
<path d="M519.8,451.5 H523.2 M521.5,449.8 V453.2" stroke="#3333c2" stroke-width="1.1" fill="none"/>
<path d="M348.8,358.5 H352.2 M350.5,356.8 V360.2" stroke="#c0323c" stroke-width="1.1" fill="none"/>
<path d="M352.8,379.5 H356.2 M354.5,377.8 V381.2" stroke="#c0323c" stroke-width="1.1" fill="none"/>
<text x="282.3" y="498.0" font-family="Liberation Sans" font-size="8.2" font-weight="bold" font-style="italic" text-anchor="start" fill="#111" stroke="#111" stroke-width="0.35" >N at risk</text>
<text x="328.0" y="512.1" font-family="Liberation Sans" font-size="8.2" font-weight="normal" font-style="normal" text-anchor="end" fill="#2424b8" stroke="#2424b8" stroke-width="0.35" >RBMX low:</text>
<text x="328.0" y="519.7" font-family="Liberation Sans" font-size="8.2" font-weight="normal" font-style="normal" text-anchor="end" fill="#b82424" stroke="#b82424" stroke-width="0.35" >RBMX high:</text>
<text x="456.6" y="497.8" font-family="Liberation Sans" font-size="8.1" font-weight="bold" font-style="normal" text-anchor="end" fill="#111" stroke="#111" stroke-width="0.35" >time (months)</text>
<text x="344.8" y="512.4" font-family="Liberation Sans" font-size="8.2" font-weight="normal" font-style="normal" text-anchor="middle" fill="#2424b8" stroke="#2424b8" stroke-width="0.35" >23</text>
<text x="370.75" y="512.4" font-family="Liberation Sans" font-size="8.2" font-weight="normal" font-style="normal" text-anchor="middle" fill="#2424b8" stroke="#2424b8" stroke-width="0.35" >7</text>
<text x="397.25" y="512.4" font-family="Liberation Sans" font-size="8.2" font-weight="normal" font-style="normal" text-anchor="middle" fill="#2424b8" stroke="#2424b8" stroke-width="0.35" >5</text>
<text x="423.9" y="512.4" font-family="Liberation Sans" font-size="8.2" font-weight="normal" font-style="normal" text-anchor="middle" fill="#2424b8" stroke="#2424b8" stroke-width="0.35" >3</text>
<text x="451.0" y="512.4" font-family="Liberation Sans" font-size="8.2" font-weight="normal" font-style="normal" text-anchor="middle" fill="#2424b8" stroke="#2424b8" stroke-width="0.35" >2</text>
<text x="477.5" y="512.4" font-family="Liberation Sans" font-size="8.2" font-weight="normal" font-style="normal" text-anchor="middle" fill="#2424b8" stroke="#2424b8" stroke-width="0.35" >2</text>
<text x="505.2" y="512.4" font-family="Liberation Sans" font-size="8.2" font-weight="normal" font-style="normal" text-anchor="middle" fill="#2424b8" stroke="#2424b8" stroke-width="0.35" >2</text>
<text x="532.2" y="512.4" font-family="Liberation Sans" font-size="8.2" font-weight="normal" font-style="normal" text-anchor="middle" fill="#2424b8" stroke="#2424b8" stroke-width="0.35" >0</text>
<text x="344.8" y="520.0" font-family="Liberation Sans" font-size="8.2" font-weight="normal" font-style="normal" text-anchor="middle" fill="#b82424" stroke="#b82424" stroke-width="0.35" >11</text>
<text x="370.75" y="520.0" font-family="Liberation Sans" font-size="8.2" font-weight="normal" font-style="normal" text-anchor="middle" fill="#b82424" stroke="#b82424" stroke-width="0.35" >0</text>
<text x="397.25" y="520.0" font-family="Liberation Sans" font-size="8.2" font-weight="normal" font-style="normal" text-anchor="middle" fill="#b82424" stroke="#b82424" stroke-width="0.35" >0</text>
<text x="423.9" y="520.0" font-family="Liberation Sans" font-size="8.2" font-weight="normal" font-style="normal" text-anchor="middle" fill="#b82424" stroke="#b82424" stroke-width="0.35" >0</text>
<text x="451.0" y="520.0" font-family="Liberation Sans" font-size="8.2" font-weight="normal" font-style="normal" text-anchor="middle" fill="#b82424" stroke="#b82424" stroke-width="0.35" >0</text>
<text x="477.5" y="520.0" font-family="Liberation Sans" font-size="8.2" font-weight="normal" font-style="normal" text-anchor="middle" fill="#b82424" stroke="#b82424" stroke-width="0.35" >0</text>
<text x="505.2" y="520.0" font-family="Liberation Sans" font-size="8.2" font-weight="normal" font-style="normal" text-anchor="middle" fill="#b82424" stroke="#b82424" stroke-width="0.35" >0</text>
<text x="532.2" y="520.0" font-family="Liberation Sans" font-size="8.2" font-weight="normal" font-style="normal" text-anchor="middle" fill="#b82424" stroke="#b82424" stroke-width="0.35" >0</text>
<text x="428.0" y="543.6" font-family="Liberation Serif" font-size="14" font-weight="bold" font-style="normal" text-anchor="middle" fill="#111" stroke="#111" stroke-width="0.1" >(d)</text>
<rect x="260.5" y="15.7" width="1.0" height="2.4" fill="#7a7a7a" opacity="0.3"/>
<rect x="260.5" y="50.099999999999994" width="1.0" height="2.4" fill="#7a7a7a" opacity="1"/>
<rect x="260.5" y="84.3" width="1.0" height="2.4" fill="#7a7a7a" opacity="1"/>
<rect x="260.5" y="118.2" width="1.0" height="2.4" fill="#7a7a7a" opacity="1"/>
<rect x="260.5" y="152.20000000000002" width="1.0" height="2.4" fill="#7a7a7a" opacity="1"/>
<rect x="260.5" y="186.10000000000002" width="1.0" height="2.4" fill="#7a7a7a" opacity="1"/>
</svg>
</body></html>
